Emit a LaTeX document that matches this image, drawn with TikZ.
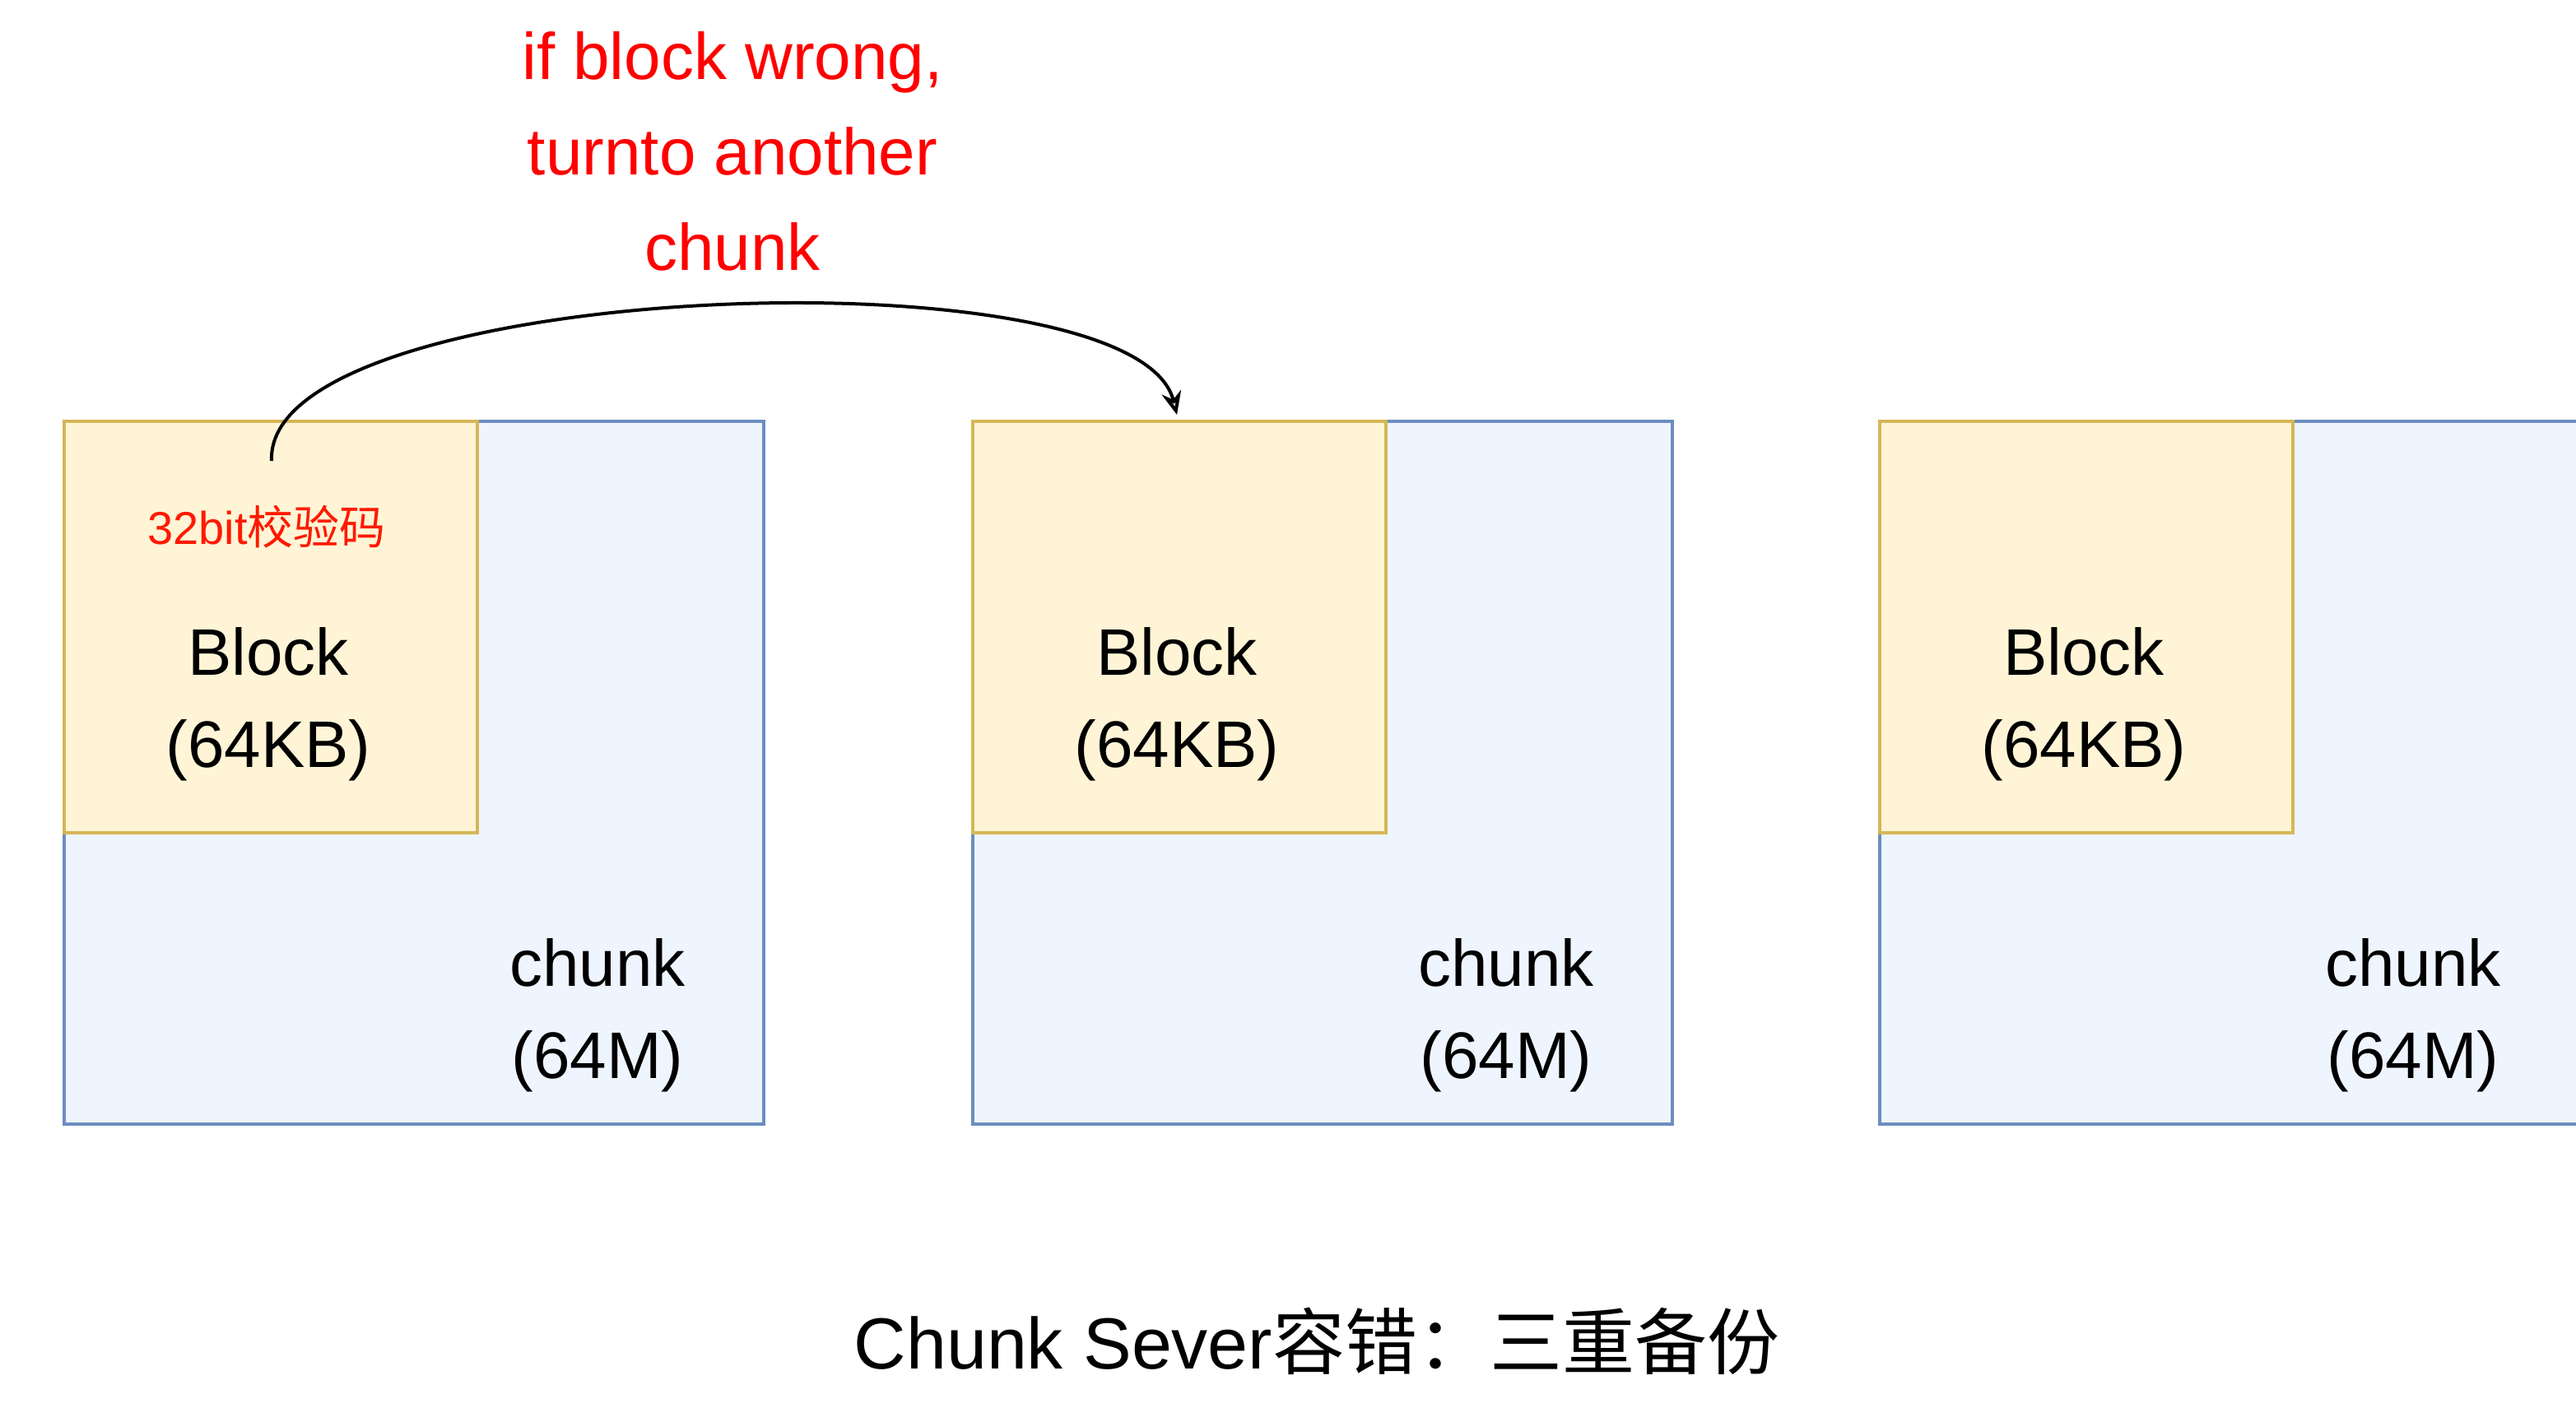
\documentclass[tikz,border=0pt]{standalone}
\usepackage{fontspec}
\setmainfont{Liberation Sans}
\newfontfamily\cjk{Noto Sans CJK SC}
\usetikzlibrary{patterns,arrows.meta}
\definecolor{cbl}{HTML}{6C8EBF}
\definecolor{cblf}{HTML}{DAE8FC}
\definecolor{cyl}{HTML}{D6B656}
\definecolor{cylf}{HTML}{FFF2CC}
\tikzset{
 chunk/.style={draw=cbl,line width=2pt,fill=cblf!45,minimum width=425pt,minimum height=427pt,inner sep=0,anchor=north west},
 block/.style={draw=cyl,line width=2pt,fill=cylf!80,minimum width=251pt,minimum height=250pt,inner sep=0,anchor=north west},
 lbl/.style={align=center,font=\fontsize{40}{56}\selectfont},
}
\begin{document}
\begin{tikzpicture}[x=1pt,y=-1pt]
\useasboundingbox (0,0) rectangle (1565,855);
\foreach \i/\x in {1/38,2/590,3/1141}{
 \node[chunk] (c\i) at (\x,255) {};
 \node[block] (b\i) at (\x,255) {};
 \node[lbl] (l\i) at (\x+125,428) {Block\\(64KB)};
 \node[lbl] (t\i) at (\x+325,617) {chunk\\(64M)};
}
\node[text=red!80!orange,font=\fontsize{28}{34}\selectfont] (chk) at (162,320) {32bit{\cjk 校验码}};
\node[text=red,align=center,font=\fontsize{40}{58}\selectfont] (note) at (445,92) {if block wrong,\\turnto another\\chunk};
\coordinate (s) at (165,280);
\coordinate (e) at (715,252);
\draw[line width=2pt,-{Stealth[open,length=14pt,width=12pt]}] (s) .. controls (160,170) and (690,150) .. (e);
\node[font=\fontsize{44}{52}\selectfont] (cap) at (800,815) {Chunk Sever{\cjk 容错：三重备份}};
\end{tikzpicture}
\end{document}
